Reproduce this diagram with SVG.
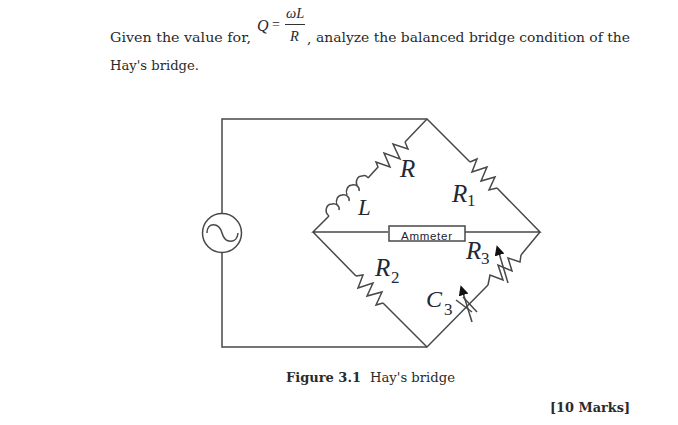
<svg xmlns="http://www.w3.org/2000/svg" width="678" height="425" viewBox="0 0 678 425">
<style>
.w{fill:none;stroke:#484848;stroke-width:1.5;stroke-linejoin:miter}
.t{font-family:"DejaVu Serif",serif;font-size:13.500px;fill:#2a2a2a}
.b{font-weight:bold}
.m{font-family:"Liberation Serif",serif;font-style:italic;fill:#1f2933}
.s{font-family:"Liberation Serif",serif;fill:#1f2933}
</style>
<defs><marker id="a" markerWidth="11" markerHeight="11" refX="2" refY="5" orient="auto" markerUnits="userSpaceOnUse"><path d="M0,0L10,5L0,10z" fill="#111"/></marker></defs>
<rect width="678" height="425" fill="#fff"/>
<g id="question">
<text class="t" x="110" y="42" textLength="141" lengthAdjust="spacingAndGlyphs">Given the value for,</text>
<text class="m" x="257" y="31" font-size="16">Q</text>
<text class="s" x="272" y="29" font-size="14">=</text>
<text class="m" x="286" y="18" font-size="14.500">ωL</text>
<path d="M285,24.500H305" stroke="#333" stroke-width="1"/>
<text class="m" x="290" y="41" font-size="14.500">R</text>
<text class="t" x="307" y="43" font-size="10">,</text>
<text class="t" x="316" y="42" textLength="314" lengthAdjust="spacingAndGlyphs">analyze the balanced bridge condition of the</text>
<text class="t" x="110" y="70" textLength="89" lengthAdjust="spacingAndGlyphs">Hay's bridge.</text>
</g>
<g id="connectors">
<path class="w" d="M222,213V119H427L470,162"/>
<path class="w" d="M222,253V347H427"/>
<path class="w" d="M388,232H313L329,216M313,232L356,276M465,232H540L497,188"/>
<path class="w" d="M383,303L427,347L488,285M521,255L540,232M405,142L427,119"/>
</g>
<g id="source"><circle class="w" cx="222" cy="233" r="19.500"/><path class="w" d="M207,233C207,222 219,222 222,233C225,244 237,244 238,233"/></g>
<g id="inductor-L"><path class="w" d="M329,216C324,212 326,204 332,204C336,203 340,206 339,210M337,205C335,200 338,195 342,195C346,194 350,197 349,201M347,195C345,190 348,185 352,185C356,184 360,187 359,191M357,186C355,180 358,176 362,176C365,175 367,176 368,178"/><text class="m" x="358" y="215" font-size="23">L</text></g>
<g id="resistor-R"><path class="w" d="M368,178L378,167L376,162L390,167L384,153L400,159L393,144L408,149L405,142"/><text class="m" x="400" y="177" font-size="25">R</text></g>
<g id="resistor-R1"><path class="w" d="M470,162L477,159L472,172L487,167L481,181L495,177L489,190L497,188"/><text class="m" x="452" y="202" font-size="25">R</text><text class="s" x="467" y="206" font-size="17">1</text></g>
<g id="resistor-R2"><path class="w" d="M356,276L363,275L358,288L373,283L367,296L382,292L376,305L383,303"/><text class="m" x="375" y="276" font-size="25">R</text><text class="s" x="391" y="283" font-size="17">2</text></g>
<g id="ammeter"><rect x="389" y="226" width="76" height="15" fill="#fff" stroke="#484848" stroke-width="1.500"/><text x="401" y="240" font-family="'Liberation Sans',sans-serif" font-size="11.500" fill="#223" textLength="51">Ammeter</text></g>
<g id="resistor-R3"><path class="w" d="M521,255L520,262L508,258L512,271L498,265L503,280L490,275L488,285"/><path class="w" d="M508,283L499,253" marker-end="url(#a)"/><text class="m" x="466" y="259" font-size="25">R</text><text class="s" x="481" y="264" font-size="17">3</text></g>
<g id="capacitor-C3"><path class="w" d="M456,300L472,312M463,297L477,312"/><path class="w" d="M472,322L463,293" marker-end="url(#a)"/><text class="m" x="426" y="307" font-size="24">C</text><text class="s" x="444" y="315" font-size="17">3</text></g>
<g id="captions">
<text class="t b" x="286" y="382" textLength="75" lengthAdjust="spacingAndGlyphs">Figure 3.1</text>
<text class="t" x="370" y="382" textLength="85" lengthAdjust="spacingAndGlyphs">Hay's bridge</text>
<text class="t b" x="550" y="412" textLength="80" lengthAdjust="spacingAndGlyphs">[10 Marks]</text>
</g>
</svg>
